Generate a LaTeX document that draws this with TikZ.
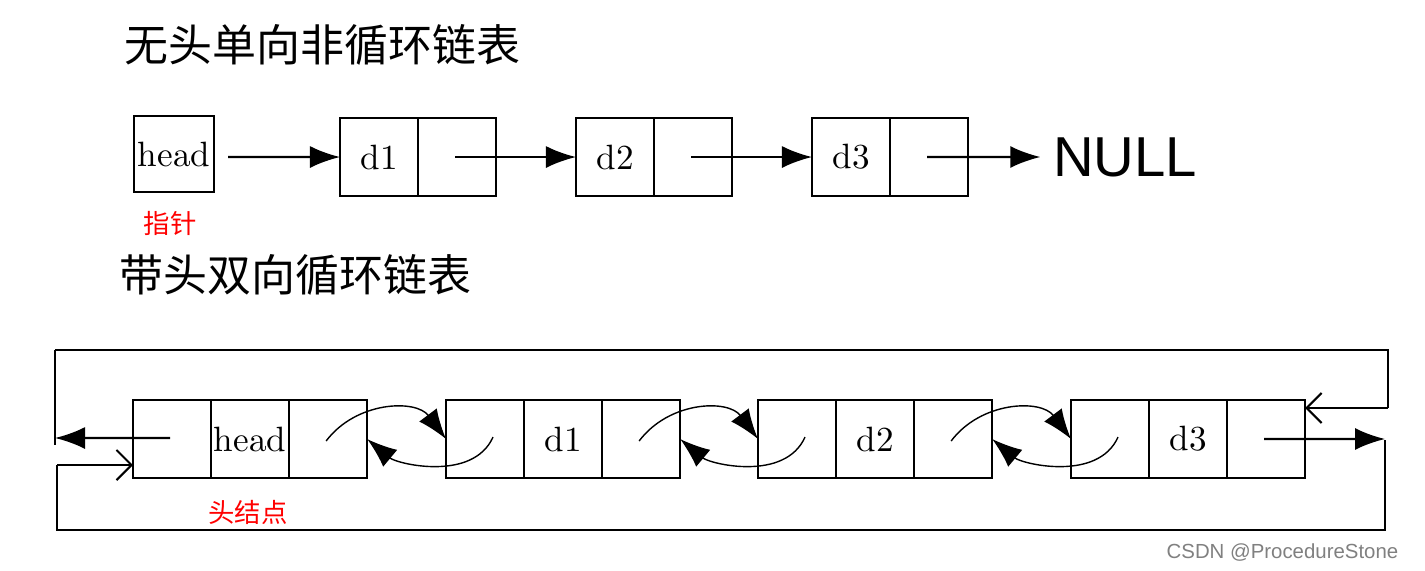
\documentclass[tikz,border=0pt]{standalone}
\usepackage{fontspec}
\newfontfamily\cjk{Noto Sans CJK SC}
\newfontfamily\lib{Liberation Sans}
\usetikzlibrary{arrows.meta}
\begin{document}
\begin{tikzpicture}[x=0.01cm,y=-0.01cm, semithick,
  cell/.style={draw, minimum width=0.78cm, minimum height=0.78cm, inner sep=0pt, outer sep=0pt, font=\fontsize{10}{12}\selectfont},
  ptr/.style={-{Latex[length=3mm,width=2.2mm]}},
  back/.style={-{Straight Barb[length=1.5mm,width=3mm]}},
  title/.style={anchor=west, font=\cjk\fontsize{12.5}{14}\selectfont},
  note/.style={red, font=\cjk\fontsize{7.5}{9}\selectfont}]
\useasboundingbox (0,0) rectangle (1425,570);
% titles
\node[title] (t1) at (112,45) {无头单向非循环链表};
\node[title] (t2) at (107,275) {带头双向循环链表};
% single list
\node[cell, minimum width=0.8cm, minimum height=0.76cm] (head) at (174,154) {head};
\node[note] (ptr) at (170,223) {指针};
\foreach \n/\x in {d1/340, d2/576, d3/812}{
  \node[cell, anchor=north west] (\n a) at (\x,118) {\n};
  \node[cell, anchor=west] (\n b) at (\n a.east) {};
}
\node[font=\lib\fontsize{16}{18}\selectfont] (null) at (1125,157) {NULL};
\draw[ptr] (head.east) ++(14,3) -- (d1a.west);
\draw[ptr] (d1b.center) ++(-2,0) -- (d2a.west);
\draw[ptr] (d2b.center) ++(-2,0) -- (d3a.west);
\draw[ptr] (d3b.center) ++(-2,0) -- (null.west);
% double circular list
\foreach \n/\t/\x in {A/head/133, B/d1/446, C/d2/758, D/d3/1071}{
  \node[cell, anchor=north west] (\n1) at (\x,400) {};
  \node[cell, anchor=west] (\n2) at (\n1.east) {\t};
  \node[cell, anchor=west] (\n3) at (\n2.east) {};
}
\node[note] (hnode) at (248,512) {头结点};
\foreach \p/\q in {A/B, B/C, C/D}{
  \draw[ptr, thin] (\p3.center) ++(-2,2) .. controls +(30,-40) and +(-30,-40) .. (\q1.west);
  \draw[ptr, thin] (\q1.center) ++(8,-2) .. controls +(-20,45) and +(30,25) .. (\p3.east);
}
\coordinate (tl) at (55,350);
\coordinate (tr) at (1388,350);
\coordinate (bl) at (57,530);
\coordinate (br) at (1385,530);
\draw (tl) -- (tr) -- (1388,408);
\draw[back] (1388,408) -- (D3.north east |- 0,408);
\draw (tl) -- (55,445);
\draw[ptr] (A1.center) ++(-2,-1) -- (55,438);
\draw[back] (57,465) -- (A1.west |- 0,465);
\draw (57,465) -- (bl) -- (br) -- (1385,440);
\draw[ptr] (D3.center) ++(-2,0) -- (1385,439);
\node[gray, font=\lib\fontsize{5.8}{7}\selectfont, anchor=east] (mark) at (1411,553) {CSDN @ProcedureStone};
\end{tikzpicture}
\end{document}
